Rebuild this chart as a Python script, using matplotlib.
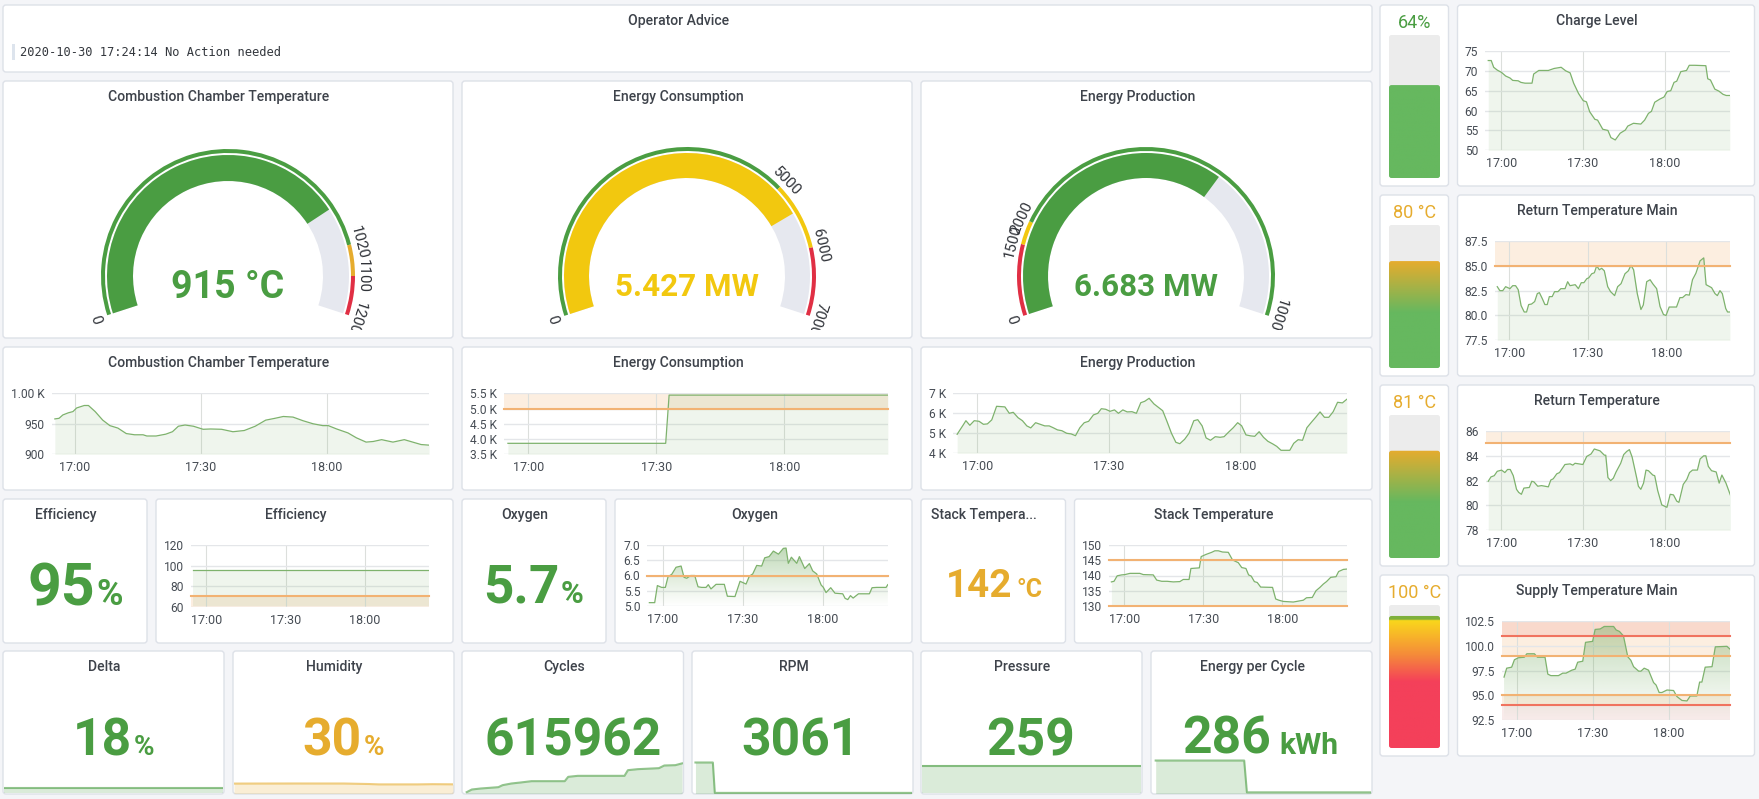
import numpy as np
import matplotlib
matplotlib.use('Agg')
import matplotlib.pyplot as plt
from matplotlib.patches import FancyBboxPatch, Wedge, Rectangle

W, H = 1759, 799
plt.rcParams['font.family'] = ['Roboto', 'DejaVu Sans']

# series, time is minutes after 17:00
comb_t = [-4.7,-3.7,-2.8,-1.5,-.4,.5,2.3,3.3,4.9,6.7,8.4,10.3,12.3,14.3,16.3,17.2,19.4,21.7,23.3,24.7,26.3,28.3,30.6,32.4,35,37.7,40.4,43,45.5,47.7,49.7,52,54.4,56.8,59.1,60.4,62.4,65.1,67.1,69.4,71.1,73.1,75.8,78.5,80.5,82.5,84.4]
comb_v = [958,959,964.5,968,970,976,980,980,970,956,947,943,934,932,932,930,930,933,937,946,948,946,941,941.5,941,937,939,946,956,959,962,961,955,950,947,947,941.5,935,927,920,921,924,920,924,920,916,915]

cons_t = [-4.8,32.2,33,84.3]
cons_v = [3.86,3.86,5.44,5.44]

prod_t = [-4.6,-3.2,-2.6,-1.7,-.7,.4,1.4,2.3,3.3,4.4,6.3,7.3,8.2,9.3,10.3,11.3,12.2,13.3,15.4,16.4,17.3,18.3,19.3,20.4,21.4,22.4,23.4,24.4,25.4,26.5,27.5,28.3,29.3,30.3,31.3,32.2,33.2,34.2,35.3,36.3,37.3,38.2,39.2,40.3,41.3,42.3,43.3,44.3,45.3,46.2,47.3,48.3,49.4,50.3,51.3,52.2,53.2,54.3,55.4,56.3,57.3,58.4,59.4,60.3,61.3,62.4,63.3,64.3,65.3,66.3,67.4,68.3,69.3,71.3,72.2,73.2,74.2,75.2,76.3,77.2,78.2,79.2,80.2,81.2,82.2,83.3,84.3]
prod_v = [4.95,5.42,5.63,5.4,5.63,5.6,5.45,5.47,5.67,6.35,6.32,6.0,6.05,5.78,5.63,5.37,5.27,5.53,5.37,5.37,5.28,5.17,5.13,5.0,4.97,4.88,5.28,5.53,5.6,5.92,6.0,6.23,6.2,6.1,6.17,6.0,6.17,6.07,6.08,6.0,6.53,6.6,6.75,6.47,6.3,6.13,5.58,5.0,4.55,4.48,4.7,5.0,5.63,5.68,5.37,4.77,4.65,4.83,4.8,4.83,5.05,5.28,5.53,5.38,4.92,4.87,4.85,5.08,4.8,4.6,4.47,4.35,4.15,4.15,4.5,4.68,4.65,5.28,5.57,5.8,6.07,5.8,5.8,6.08,6.55,6.52,6.7]

eff_t = [-5,84.3]
eff_v = [95.3,95.3]

oxy_t = [-5,-3,-2,-.4,1,2,3.4,5,6.9,8,9,10.5,12,13.25,14.6,16.25,17.1,18.1,20,23.1,24.25,27.1,29,31.25,32.5,33.75,35.25,37.1,38.25,39.9,41.5,43.4,45.25,46.25,47.1,48.25,50.25,51.25,53.25,55,56.25,57.75,59.4,60.25,61.25,63,64.6,67.5,68.4,69.4,70.4,71.4,73.4,77.5,78.5,80.25,83.75,84.4]
oxy_v = [5.11,5.11,5.67,5.61,5.61,5.96,6.04,6.27,6.31,5.94,5.91,6.0,6.0,5.63,5.61,5.61,5.7,5.56,5.71,5.71,5.32,5.31,5.81,5.72,5.98,6.05,6.33,6.31,6.58,6.62,6.8,6.7,6.89,6.9,6.4,6.6,6.4,6.62,6.23,6.39,6.15,6.05,5.69,5.61,5.44,5.6,5.42,5.4,5.25,5.21,5.34,5.26,5.4,5.4,5.6,5.61,5.61,5.7]

stack_t = [-4.9,-3.9,-2.7,-1,.25,2.15,5.9,7.2,11,12.3,14.2,16.3,18.6,21.1,22.4,24.6,25.3,28.5,29.2,31,33.2,34.4,35.7,37.3,39.5,41.1,43.3,44.6,46.2,47.2,48.2,49.4,50.5,51.8,56.3,57.5,58.7,60.4,64.2,66.1,68,69.2,71.4,72.8,74.3,75.6,76.8,78.4,80.4,81.4,83.2,84.4]
stack_v = [137.9,138.1,139.9,140.2,140.3,140.7,140.7,140.3,140.2,138.5,138.1,138.1,137.9,138,138.7,138.7,142.3,142.5,146.2,146.9,147.6,148.1,148.1,147.7,147.6,145.1,144.2,142.6,142.3,140.2,139.8,138,137.7,136.2,136.1,132.3,131.9,131.5,131.3,131.6,131.9,132.7,132.8,135,136.1,137.2,138,139.4,139.6,141.3,142,142.1]

charge_t = [-4.8,-3.7,-2.8,-1.5,.1,1.6,3.2,4.2,6.2,7.2,8.7,11.3,11.9,13.8,17.3,19.4,22,23.7,25.3,26.6,28.4,30.1,31.3,32.5,34.4,35.4,37.3,39.2,40.3,41.9,43.7,45.6,46.5,48.6,51.3,52.7,54.1,55.2,56.4,58.3,59.8,61,62.3,63.5,64.5,66,68.1,69.1,71.2,75.2,75.9,76.9,78.5,80,81.5,82.7,84]
charge_v = [72.6,72.6,70.9,70.2,69.6,68.7,68.2,67.6,67.5,67.1,66.9,66.9,69.2,70.1,70.1,70.6,70.9,70,69.5,66.9,64.3,62.5,62.2,59.7,57.8,57.6,55.3,55,53.2,52.6,54.3,55.1,56.1,56.8,56.6,57.6,59.3,59.8,62.1,62.9,63.4,64.8,65,67.1,67.4,69.8,70.1,71.4,71.4,71.3,68,67.7,65.4,64.9,64.1,63.8,63.8]

rmain_t = [-4.6,-3.6,-2.5,-1.4,.25,1.3,2.4,3.4,4.5,5.7,6.6,7.4,8.5,9.7,10.7,11.5,12.6,13.6,14.5,15.3,16.4,17.3,18.6,19.7,21.3,22.3,23.2,25.2,26.4,27.5,28.5,29.6,30.4,31.5,32.5,33.4,34.4,35.3,36.3,37.6,38.7,40.25,41.4,42.7,44.2,45.5,46.5,47.5,48.9,50.3,51.2,52.5,53.8,54.8,56.3,57.6,58.9,59.9,61.1,63.9,65.2,66.2,67.5,68.8,70,71.3,72.9,74.3,75.2,77.3,78.6,79.5,80.5,81.4,82.7,83.4,84.3]
rmain_v = [82.9,82.5,82.5,82.9,82.7,83,83,82.6,81,80.35,80.35,81.1,81.15,81.4,82.2,82.3,81.7,81.1,81.1,81.9,81.9,82.4,82.4,82.7,82.7,83.4,83,83.1,82.7,83.3,83.3,83.7,83.8,84.2,84.3,85,84.6,84.75,84.5,82.9,82.4,82,82.9,83.2,84.2,84.5,85.05,84.6,82.2,80.6,81.05,83.4,83.6,83.2,82.7,80.9,80.1,80,80.85,80.85,81.8,81.8,82.1,82.05,83.6,84.25,85.5,85.8,83.1,82.8,82.2,82,82.5,82.2,80.7,80.35,80.35]

ret_t = [-4.8,-3.8,-2.6,-1.5,.1,1.3,2.3,3.3,4.4,5.6,6.4,7.4,8.3,10.3,11.2,12,13.4,14.8,17.3,18.2,19.1,20.4,21.4,23.4,25.3,26.3,27.1,30,31.4,33,34.2,36.3,37.9,38.4,39.2,40.2,41.2,42.2,43.9,45,46.1,47.1,48.1,49.8,50.4,51.3,52.3,53.2,54.1,55.7,56.4,57.5,59,60.9,62.1,63.3,64.5,65.3,66.9,68.2,69.2,70.3,72.1,73.1,74.4,75.2,76.1,77.3,79,80.1,81.1,82.6,84.2]
ret_v = [81.95,82.3,82.4,82.75,82.85,82.65,82.9,82.9,82.4,81.3,81.05,80.9,81.4,81.45,81.95,81.9,81.55,81.6,81.5,82.05,82.15,82.55,82.65,83.3,83.35,83.25,83.4,83.3,83.95,84.15,84.55,84.4,84.05,84.05,82.25,82,82.2,82.7,83.4,84.1,84.35,84.5,83.9,82.2,81.55,81.3,81.8,82.85,82.8,82.45,82.4,81.2,80.05,79.85,80.9,80.85,80.35,80.25,81.7,82.1,82.65,82.85,82.85,83.75,84,84,83.15,82.8,82.7,81.8,82.45,81.8,80.85]

sup_t = [-5,-3.96,-2,-.9,.66,3,4,7,8.2,11.2,12.3,13.5,16.5,18.2,19.5,21.8,23.1,24.1,26.1,27.2,30,31,33,34.6,38.3,39.3,40.6,42.2,43.9,45.1,46.2,48.2,49.1,50.4,52.1,54.1,55.1,56.3,57.4,59.4,62,63.3,65.3,67.3,68.6,71.2,72.3,73.2,74.5,77.2,78.5,83.1,84.4]
sup_v = [96.85,97.75,97.85,98.6,98.8,98.85,99.2,99.2,98.85,98.85,97.15,97,97,97.25,97.25,97.55,97.65,98.35,98.45,100.35,100.45,101.65,101.7,101.95,101.95,101.6,101.45,101,98.9,98.55,97.9,97.45,97.45,97.75,97.55,96.3,96.05,95.3,95.3,95.55,95.5,94.9,94.5,94.45,94.95,94.95,96.35,96.35,97.85,97.9,99.9,99.95,99.65]

delta_t = [-5,84.3]
delta_v = [18,18]
hum_t = [-5,20,40,50,54,70,76,84.3]
hum_v = [33,33.3,33.2,31.5,30.3,30.3,31,30.5]
cyc_t = [-3.5,-1.4,2.2,9.4,11.1,14.7,18.4,22.9,36.4,37.8,41.7,60.7,62.1,66.1,74.7,76.9,81.4,84.1]
cyc_v = [615703,615727,615736,615748,615766,615781,615790,615802,615802,615841,615850,615850,615901,615910,615919,615943,615946,615962]
rpm_t = [-4,3.1,3.9,84.3]
rpm_v = [3061,3061,60,60]
pres_t = [-5,84.3]
pres_v = [259,259]
epc_t = [-3.5,32.6,33.7,84.3]
epc_v = [286,286,10,10]

xticks = [0, 30, 60]
xlabels = ['17:00', '17:30', '18:00']

GREEN = '#4a9d42'
ORANGE = '#e6ac2e'
YELLOW = '#f2c80f'
RED = '#e02f44'
TXT = '#3e434b'
LINE = '#7eb26d'
T_OR = '#f2b273'
T_RD = '#f0735f'
B_OR = '#fceee0'
B_RD = '#f9d9cc'
B_PK = '#f8ebea'
BIG = 'bold'


def px(size):
    return size * 0.72


fig = plt.figure(figsize=(W / 100, H / 100), dpi=100, facecolor='#f4f5f8')
bg = fig.add_axes([0, 0, 1, 1])
bg.set_xlim(0, W)
bg.set_ylim(H, 0)
bg.axis('off')


def panel(l, r, t, b, title=None):
    bg.add_patch(FancyBboxPatch((l, t), r - l, b - t, boxstyle='round,pad=0,rounding_size=3',
                                fc='white', ec='#dde1e8', lw=1.0))
    if title:
        # panel header sits a bit left of the middle
        bg.text((l + r) / 2 - 9, t + 16, title, ha='center', va='center', color=TXT,
                fontsize=px(14), fontweight='medium')


def make_ax(l, r, t, b):
    ax = fig.add_axes([l / W, 1 - b / H, (r - l) / W, (b - t) / H])
    ax.patch.set_visible(False)
    return ax


def graph(rect, x0, ppm, t, v, ylim, yticks, ylabels, bands=(), lines=(), gradient=False):
    l, r, top, bot = rect
    ax = make_ax(l, r, top, bot)
    ax.set_xlim((l - x0) / ppm, (r - x0) / ppm)
    ax.set_ylim(*ylim)
    for s in ax.spines.values():
        s.set_visible(False)
    ax.set_xticks(xticks, xlabels)
    ax.set_yticks(yticks, ylabels)
    ax.tick_params(length=0, labelsize=px(12), labelcolor='#464c54')
    ax.tick_params(axis='y', pad=px(7))
    ax.tick_params(axis='x', pad=px(7), labelsize=px(12.5))
    ax.set_axisbelow(True)
    ax.grid(axis='y', color='#e4e6e9', lw=1.0)
    ax.grid(axis='x', color='#dcdfdc', lw=0.8)
    for lo, hi, col in bands:
        ax.axhspan(lo, hi, color=col, lw=0, zorder=0.5)
    if gradient:
        poly = ax.fill_between(t, v, ylim[0], color='none', lw=0)
        rgba = np.zeros((256, 2, 4))
        rgba[..., :3] = matplotlib.colors.to_rgb(LINE)
        rgba[..., 3] = np.linspace(0.5, 0.0, 256)[:, None]
        im = ax.imshow(rgba, extent=[t[0], t[-1], ylim[0], ylim[1]], aspect='auto', origin='upper', zorder=1)
        im.set_clip_path(poly.get_paths()[0], transform=ax.transData)
        ax.set_xlim((l - x0) / ppm, (r - x0) / ppm)
        ax.set_ylim(*ylim)
    else:
        ax.fill_between(t, v, ylim[0], color=LINE, alpha=0.12, lw=0, zorder=1)
    ax.plot(t, v, color=LINE, lw=0.9, zorder=2)
    for val, col in lines:
        ax.axhline(val, color=col, lw=1.5, zorder=3, clip_on=False)
    return ax


def gauge(cx, cy, l, r, bot, value, vmax, thresholds, ticks, rings, band, col, label, size, base):
    top = 110
    ax = make_ax(l, r, top, bot)
    ax.set_xlim(l - cx, r - cx)
    ax.set_ylim(cy - bot, cy - top)
    ax.axis('off')

    def ang(v):
        return 198 - 216 * v / vmax

    ax.add_patch(Wedge((0, 0), band[1], -18, 198, width=band[1] - band[0], fc='#e6e8ef', lw=0))
    ax.add_patch(Wedge((0, 0), band[1], ang(value), 198, width=band[1] - band[0], fc=col, lw=0))
    lo = 0
    for hi, c in thresholds:
        ax.add_patch(Wedge((0, 0), rings[1], ang(hi), ang(lo), width=rings[1] - rings[0], fc=c, lw=0))
        lo = hi
    for tk, name in ticks:
        a = ang(tk)
        rad = rings[1] + 8
        ax.text(rad * np.cos(np.radians(a)), rad * np.sin(np.radians(a)), name, rotation=a - 90,
                rotation_mode='anchor', ha='center', va='center', fontsize=px(15), color='#2f3238',
                clip_on=True)
    bg.text(cx, base, label, ha='center', va='baseline', color=col, fontsize=px(size), fontweight=BIG)


def stat(split, base, value, unit, size, usize, col, gap=0):
    bg.text(split, base, value, ha='right', va='baseline', color=col, fontsize=px(size), fontweight=BIG)
    bg.text(split + gap, base, unit, ha='left', va='baseline', color=col, fontsize=px(usize), fontweight=BIG)


def spark(l, r, t, v, ylim, col):
    ax = make_ax(l + 1, r - 1, 753.5, 793.5)
    ax.set_xlim(-5, 84.3)
    ax.set_ylim(*ylim)
    ax.axis('off')
    ax.fill_between(t, v, ylim[0], color=col, alpha=0.2, lw=0)
    ax.plot(t, v, color=col, alpha=0.6, lw=1.5)


def bar(t, b, value, vmax, col_stops, label, col):
    l, r = 1389, 1440
    ax = make_ax(l, r, t, b)
    ax.set_xlim(0, r - l)
    ax.set_ylim(0, vmax)
    ax.axis('off')
    asp = vmax / (b - t)
    ax.add_patch(FancyBboxPatch((0, 0), r - l, vmax, boxstyle='round,pad=0,rounding_size=2.5',
                                mutation_aspect=asp, fc='#ececec', lw=0))
    clip = FancyBboxPatch((0, 0), r - l, value, boxstyle='round,pad=0,rounding_size=2.5',
                          mutation_aspect=asp, fc='none', lw=0, transform=ax.transData)
    ax.add_patch(clip)
    pos = [p for p, c in col_stops]
    rgb = np.array([matplotlib.colors.to_rgb(c) for p, c in col_stops])
    ys = np.linspace(0, 1, 256)
    grad = np.stack([np.interp(ys, pos, rgb[:, i]) for i in range(3)], axis=1)[:, None, :]
    im = ax.imshow(grad, extent=[0, r - l, 0, value], aspect='auto', origin='upper', zorder=2)
    im.set_clip_path(clip)
    ax.set_xlim(0, r - l)
    ax.set_ylim(0, vmax)
    bg.text((l + r) / 2, t - 12, label, ha='center', va='center', color=col, fontsize=px(18))


# panels
panel(3, 1372, 5, 72, 'Operator Advice')
for l, r, name in [(3, 453, 'Combustion Chamber Temperature'), (462, 912, 'Energy Consumption'), (921, 1372, 'Energy Production')]:
    panel(l, r, 81, 338, name)
    panel(l, r, 347, 490, name)
for l, r, name in [(3, 147, 'Efficiency'), (156, 453, 'Efficiency'), (462, 606, 'Oxygen'), (615, 912, 'Oxygen'),
                   (921, 1065.5, 'Stack Tempera...'), (1074.5, 1372, 'Stack Temperature')]:
    panel(l, r, 499, 643, name)
for l, r, name in [(3, 224, 'Delta'), (233, 454, 'Humidity'), (462, 683.5, 'Cycles'), (692, 913, 'RPM'),
                   (921, 1142, 'Pressure'), (1151, 1372, 'Energy per Cycle')]:
    panel(l, r, 651, 794, name)
for t, b, name in [(5, 186, 'Charge Level'), (195, 376, 'Return Temperature Main'),
                   (385, 566, 'Return Temperature'), (575, 756, 'Supply Temperature Main')]:
    panel(1380, 1448.5, t, b)
    panel(1457.5, 1754.5, t, b, name)

# log line
bg.add_patch(Rectangle((12, 44), 3, 16, fc='#dde4ed', lw=0))
bg.text(20, 52, '2020-10-30 17:24:14 No Action needed', ha='left', va='center', color='#33373d',
        family='DejaVu Sans Mono', fontsize=px(12))

# gauges
gauge(228, 276, 4, 452, 330, 915, 1200, [(1020, GREEN), (1100, ORANGE), (1200, RED)],
      [(0, '0'), (1020, '1020'), (1100, '1100'), (1200, '1200')], (123, 127), (95, 121), GREEN, '915 °C', 37.5, 298.3)
gauge(687, 276, 463, 911, 330, 5427, 7000, [(5000, GREEN), (6000, YELLOW), (7000, RED)],
      [(0, '0'), (5000, '5000'), (6000, '6000'), (7000, '7000')], (125, 129), (98, 123), YELLOW, '5.427 MW', 31.4, 295.7)
gauge(1146, 276, 922, 1371, 330, 6683, 10000, [(1500, RED), (2000, YELLOW), (10000, GREEN)],
      [(0, '0'), (1500, '1500'), (2000, '2000'), (10000, '10000')], (125, 129), (98, 123), GREEN, '6.683 MW', 31.4, 295.7)

# graphs
graph((51.6, 428.6, 393.3, 454.3), 74.6, 4.2, comb_t, comb_v, (900, 1000), [900, 950, 1000], ['900', '950', '1.00 K'])
graph((503.8, 888, 393.3, 454.3), 528.4, 4.264, cons_t, cons_v, (3.5, 5.5), [3.5, 4, 4.5, 5, 5.5],
      ['3.5 K', '4.0 K', '4.5 K', '5.0 K', '5.5 K'], bands=[(5, 5.5, B_OR)], lines=[(5, T_OR)])
graph((953, 1346.7, 393.3, 453.3), 977.3, 4.383, prod_t, prod_v, (4, 7), [4, 5, 6, 7], ['4 K', '5 K', '6 K', '7 K'])
graph((190.7, 428.6, 545.3, 606.5), 206.4, 2.637, eff_t, eff_v, (60, 120), [60, 80, 100, 120], ['60', '80', '100', '120'],
      bands=[(60, 70, B_OR)], lines=[(70, T_OR)])
graph((647.3, 887.7, 545, 606), 662.7, 2.667, oxy_t, oxy_v, (5, 7), [5, 5.5, 6, 6.5, 7], ['5.0', '5.5', '6.0', '6.5', '7.0'],
      lines=[(6, T_OR)], gradient=True)
graph((1109.3, 1346.7, 545, 606), 1124.3, 2.633, stack_t, stack_v, (130, 150), [130, 135, 140, 145, 150],
      ['130', '135', '140', '145', '150'], lines=[(145, T_OR), (130, T_OR)])
graph((1485, 1730, 51, 150.3), 1501.3, 2.72, charge_t, charge_v, (50, 75), [50, 55, 60, 65, 70, 75],
      ['50', '55', '60', '65', '70', '75'])
graph((1495, 1730, 241, 340.3), 1509.3, 2.617, rmain_t, rmain_v, (77.5, 87.5), [77.5, 80, 82.5, 85, 87.5],
      ['77.5', '80.0', '82.5', '85.0', '87.5'], bands=[(85, 87.5, B_OR)], lines=[(85, T_OR)])
graph((1486, 1730, 431, 530.3), 1501.3, 2.72, ret_t, ret_v, (78, 86), [78, 80, 82, 84, 86],
      ['78', '80', '82', '84', '86'], bands=[(85, 86, B_OR)], lines=[(85, T_OR)])
graph((1501.7, 1730, 621, 720.3), 1516.7, 2.53, sup_t, sup_v, (92.5, 102.5), [92.5, 95, 97.5, 100, 102.5],
      ['92.5', '95.0', '97.5', '100.0', '102.5'],
      bands=[(101, 102.5, B_RD), (99, 101, B_OR), (94, 95, B_OR), (92.5, 94, B_PK)],
      lines=[(101, T_RD), (99, T_OR), (95, T_OR), (94, T_RD)], gradient=True)

# single stats
stat(95, 605, '95', '%', 59, 36, GREEN, 1)
stat(560, 602.7, '5.7', '%', 53, 31, GREEN, 1)
stat(1012, 597.3, '142', '°C', 38.6, 25, ORANGE, 5)
stat(132, 755, '18', '%', 51.6, 28, GREEN, 2)
stat(362, 755, '30', '%', 51.6, 28, ORANGE, 2)
stat(1271, 753.5, '286', 'kWh', 51.6, 30, GREEN, 8)
for cx, name in [(573, '615962'), (801, '3061'), (1031, '259')]:
    bg.text(cx, 755, name, ha='center', va='baseline', color=GREEN, fontsize=px(51.6), fontweight=BIG)

# sparklines
spark(3, 224, delta_t, delta_v, (0, 131), GREEN)
spark(233, 454, hum_t, hum_v, (0, 133), ORANGE)
spark(462, 683.5, cyc_t, cyc_v, (615691, 616051), GREEN)
spark(692, 913, rpm_t, rpm_v, (0, 3950), GREEN)
spark(921, 1142, pres_t, pres_v, (0, 370), GREEN)
spark(1151, 1372, epc_t, epc_v, (0, 347), GREEN)

# bar gauges
BG = '#66b85f'
bar(35, 178, 64, 98.5, [(0, BG), (1, BG)], '64%', GREEN)
bar(225, 368, 80, 107, [(0, ORANGE), (0.48, BG), (1, BG)], '80 °C', ORANGE)
bar(415, 558, 81, 108, [(0, ORANGE), (0.48, BG), (1, BG)], '81 °C', ORANGE)
bar(605, 748, 100, 108.3, [(0, '#7fb03c'), (0.03, '#7fb03c'), (0.04, '#f9d71c'), (0.3, '#f58a3a'), (0.5, '#f4405a'), (1, '#f4405a')], '100 °C', ORANGE)

fig.savefig('out.png', dpi=100, facecolor=fig.get_facecolor())
